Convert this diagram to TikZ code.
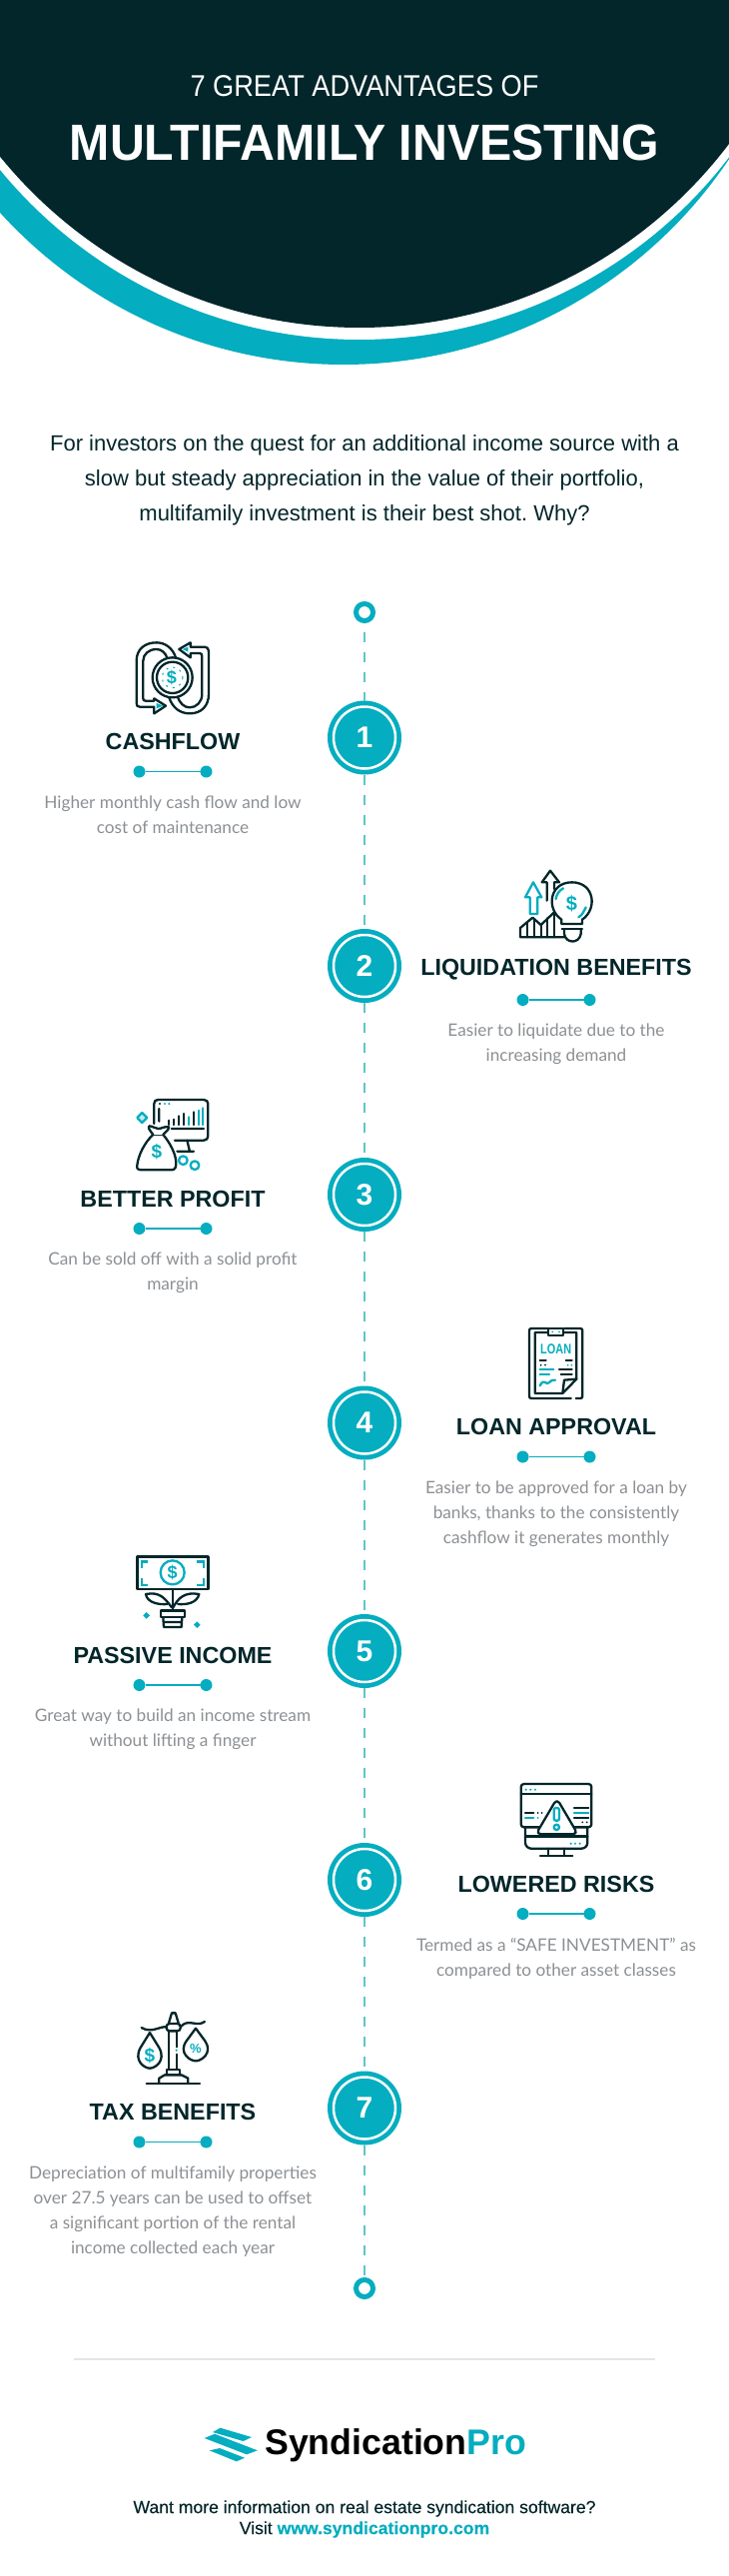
\documentclass[tikz,border=0pt]{standalone}
\usepackage{fontspec}
\setmainfont{Liberation Sans}
\newfontfamily\bodyfont{Lato}
\usetikzlibrary{calc}
\definecolor{inkdark}{HTML}{02262A}
\definecolor{tealc}{HTML}{04ADBF}
\definecolor{dashc}{HTML}{5FC4CF}
\definecolor{bodyg}{HTML}{8C9094}
\tikzset{
  headtext/.style={inner sep=0,font=\bfseries\fontsize{23.3}{27}\selectfont,text=inkdark},
  bodytext/.style={inner sep=0,anchor=north,align=center,font=\bodyfont\fontsize{17.2}{25}\selectfont,text=bodyg},
  dotn/.style={circle,fill=tealc,minimum size=12,inner sep=0,outer sep=0},
  divline/.style={draw=tealc,line width=1.5},
  dashline/.style={draw=dashc,line width=2,dash pattern=on 10pt off 10pt},
  ringn/.style={circle,fill=tealc,minimum size=74,inner sep=0,outer sep=0},
  numn/.style={circle,fill=tealc,draw=white,line width=2.5,minimum size=62,inner sep=0,outer sep=0,text=white,font=\bfseries\fontsize{30}{30}\selectfont},
  icond/.style={draw=inkdark,line width=2.3,line cap=round,line join=round},
  icont/.style={draw=tealc,line width=2.3,line cap=round,line join=round},
  dollar/.style={inner sep=0,text=tealc,font=\bfseries\fontsize{18}{18}\selectfont},
  iconscope/.style={scale=0.33333},
}
\newcommand{\infoblock}[5]{%
  \node[headtext] (#1-t) at (#2,#3+4) {#4};
  \node[dotn] (#1-a) at (#2-33.5,#3+34) {};
  \node[dotn] (#1-b) at (#2+33.5,#3+34) {};
  \draw[divline] (#1-a) -- (#1-b);
  \node[bodytext] (#1-x) at (#2,#3+58) {#5};
}
\newcommand{\numcirc}[2]{%
  \node[ringn] (r#1) at (365,#2) {};
  \node[numn] (n#1) at (365,#2) {#1};
}
\begin{document}
\frenchspacing
\begin{tikzpicture}[x=1pt,y=-1pt]
\useasboundingbox (0,0) rectangle (730,2579);
\fill[white] (0,0) rectangle (730,2579);
% header
\begin{scope}
\clip (0,0) rectangle (730,400);
\fill[tealc] (344,-100) circle [radius=465];
\fill[white] (360,-126) circle [radius=466];
\fill[inkdark] (360,-136) circle [radius=464];
\end{scope}
\node[inner sep=0,text=white,font=\fontsize{30}{30}\selectfont\addfontfeature{FakeStretch=0.906}] (sup) at (365,86) {7 GREAT ADVANTAGES OF};
\node[inner sep=0,text=white,font=\bfseries\fontsize{51}{51}\selectfont\addfontfeature{FakeStretch=0.947}] (ttl) at (365,143) {MULTIFAMILY INVESTING};
\node[inner sep=0,align=center,text=inkdark,font=\fontsize{22}{35}\selectfont] (intro) at (365,481) {For investors on the quest for an additional income source with a\\slow but steady appreciation in the value of their portfolio,\\multifamily investment is their best shot. Why?};
% timeline
\node[circle,draw=tealc,line width=5,fill=white,minimum size=17,inner sep=0] (top) at (365,613) {};
\node[circle,draw=tealc,line width=5,fill=white,minimum size=17,inner sep=0] (bot) at (365,2291) {};
\numcirc{1}{738.5}
\numcirc{2}{967}
\numcirc{3}{1196}
\numcirc{4}{1424.5}
\numcirc{5}{1653}
\numcirc{6}{1882}
\numcirc{7}{2110.5}
\draw[dashline] ($(top)+(0,20)$) -- (r1);
\draw[dashline] (r1) -- (r2);
\draw[dashline] (r2) -- (r3);
\draw[dashline] (r3) -- (r4);
\draw[dashline] (r4) -- (r5);
\draw[dashline] (r5) -- (r6);
\draw[dashline] (r6) -- (r7);
\draw[dashline] (r7) -- (bot);
% blocks
\infoblock{b1}{173}{738.5}{CASHFLOW}{Higher monthly cash flow and low\\cost of maintenance}
\infoblock{b2}{557}{967}{LIQUIDATION BENEFITS}{Easier to liquidate due to the\\increasing demand}
\infoblock{b3}{173}{1196}{BETTER PROFIT}{Can be sold off with a solid profit\\margin}
\infoblock{b4}{557}{1424.5}{LOAN APPROVAL}{Easier to be approved for a loan by\\banks, thanks to the consistently\\cashflow it generates monthly}
\infoblock{b5}{173}{1653}{PASSIVE INCOME}{Great way to build an income stream\\without lifting a finger}
\infoblock{b6}{557}{1882}{LOWERED RISKS}{Termed as a “SAFE INVESTMENT” as\\compared to other asset classes}
\infoblock{b7}{173}{2110.5}{TAX BENEFITS}{Depreciation of multifamily properties\\over 27.5 years can be used to offset\\a significant portion of the rental\\income collected each year}
% icon 1
\begin{scope}[shift={(0,580)},iconscope]
\draw[icond] (528,235) .. controls (518,205) and (495,190) .. (470,190) .. controls (435,190) and (410,210) .. (410,245) -- (410,372) .. controls (410,380) and (413,383) .. (420,383) -- (463,383) -- (463,403) -- (498,380) -- (463,358) -- (463,365) -- (437,365) .. controls (432,365) and (430,362) .. (430,358) -- (430,245) .. controls (430,225) and (447,210) .. (470,210) .. controls (485,210) and (497,220) .. (503,238);
\draw[icond] (508,355) .. controls (518,385) and (540,403) .. (570,403) .. controls (605,403) and (627,380) .. (627,345) -- (627,220) .. controls (627,208) and (622,203) .. (612,203) -- (572,203) -- (572,190) -- (538,210) -- (572,235) -- (572,222) -- (600,222) .. controls (605,222) and (607,226) .. (607,232) -- (607,345) .. controls (607,368) and (590,385) .. (570,385) .. controls (553,385) and (540,372) .. (533,352);
\fill[tealc] (470,372) -- (490,380) -- (470,388) -- cycle;
\fill[tealc] (565,203) -- (548,210) -- (565,218) -- cycle;
\draw[icond,fill=white] (518,295) circle [radius=60];
\draw[icond] (518,295) circle [radius=47];
\draw[tealc,line width=1,dash pattern=on 2pt off 5pt] (518,295) circle [radius=31];
\node[dollar] (i1s) at (516,296) {\$};
\end{scope}
% icon 2
\begin{scope}[shift={(400,850)},iconscope]
\draw[icond] (443,155) -- (443,100) -- (428,100) -- (453,65) -- (480,100) -- (465,100) -- (465,120);
\draw[icont] (392,195) -- (392,145) -- (378,145) -- (402,100) -- (427,145) -- (415,145) -- (415,195) -- cycle;
\draw[icond] (487,212) .. controls (440,180) and (450,100) .. (518,100) .. controls (586,100) and (596,180) .. (549,212) -- (549,225) -- (487,225) -- cycle;
\draw[icond] (488,240) -- (549,240);
\draw[icond] (495,240) -- (495,255) .. controls (500,285) and (540,285) .. (545,255) -- (545,240);
\draw[icond] (495,265) -- (363,265) -- (363,237) -- (400,206) -- (425,228) -- (465,190);
\draw[icond] (385,222) -- (385,265) (405,212) -- (405,265) (425,228) -- (425,265) (445,208) -- (445,265) (465,190) -- (465,265);
\draw[icont] (470,150) .. controls (472,135) and (480,125) .. (492,118);
\draw[icont] (538,205) .. controls (550,198) and (555,185) .. (560,175);
\node[dollar,font=\bfseries\fontsize{20}{20}\selectfont] (i2s) at (517,163) {\$};
\end{scope}
% icon 3
\begin{scope}[shift={(100,1100)},iconscope]
\draw[icond] (163,75) -- (163,15) .. controls (163,7) and (167,3) .. (175,3) -- (312,3) .. controls (320,3) and (325,8) .. (325,15) -- (325,112) .. controls (325,120) and (320,125) .. (312,125) -- (225,125);
\draw[icond] (178,30) -- (178,68) (215,90) -- (312,90) (262,125) -- (270,158) (232,158) -- (282,158);
\fill[inkdark] (180,15) circle [radius=3.5];
\fill[tealc] (195,15) circle [radius=3.5] (208,15) circle [radius=3.5];
\draw[icond] (207,65) -- (207,78) (222,62) -- (222,78) (237,52) -- (237,78) (252,45) -- (252,78) (282,40) -- (282,78);
\draw[icont] (267,55) -- (267,78) (297,35) -- (297,78) (310,28) -- (310,78);
\draw[icond,fill=white] (160,108) -- (190,108) .. controls (205,125) and (235,170) .. (228,205) .. controls (226,212) and (220,214) .. (215,214) -- (122,214) .. controls (115,214) and (110,210) .. (112,200) .. controls (115,170) and (135,130) .. (160,108) -- cycle;
\draw[icond,fill=white] (160,108) .. controls (155,100) and (142,88) .. (148,82) .. controls (160,82) and (165,90) .. (175,90) .. controls (185,90) and (195,82) .. (207,85) .. controls (208,95) and (195,100) .. (190,108);
\node[dollar,font=\bfseries\fontsize{19}{19}\selectfont] (i3s) at (171,160) {\$};
\draw[icont,fill=tealc!25] (127,42) -- (142,57) -- (127,72) -- (112,57) -- cycle;
\draw[icont] (250,185) circle [radius=13] (285,200) circle [radius=13];
\end{scope}
% icon 4
\begin{scope}[shift={(490,1310)},iconscope]
\draw[icond] (175,60) -- (127,60) .. controls (122,60) and (120,62) .. (120,67) -- (120,263) .. controls (120,268) and (122,270) .. (127,270) -- (245,270);
\draw[icond] (260,270) -- (273,270) .. controls (278,270) and (280,268) .. (280,263) -- (280,67) .. controls (280,62) and (278,60) .. (273,60) -- (225,60);
\draw[icond] (175,72) -- (137,72) -- (137,255) -- (220,255) -- (262,212) -- (262,72) -- (225,72);
\draw[icond] (262,212) -- (225,215) -- (220,255);
\draw[icond] (177,60) -- (177,80) -- (223,80) -- (223,60) -- cycle;
\fill[tealc] (190,70) circle [radius=3] (210,70) circle [radius=3];
\node[inner sep=0,text=tealc,font=\bfseries\fontsize{14}{14}\selectfont\addfontfeature{FakeStretch=0.78}] (i4l) at (200,121) {LOAN};
\draw[icond] (152,155) -- (170,155) (230,155) -- (248,155) (210,182) -- (248,182) (215,197) -- (248,197);
\fill[inkdark] (155,170) circle [radius=3] (168,170) circle [radius=3];
\fill[tealc] (236,170) circle [radius=3] (247,170) circle [radius=3];
\draw[icont] (152,182) -- (193,182) (152,197) -- (180,197);
\draw[icont] (152,232) .. controls (165,205) and (172,235) .. (180,222) .. controls (185,215) and (190,215) .. (198,215);
\end{scope}
% icon 5
\begin{scope}[shift={(110,1550)},iconscope]
\draw[icond,line width=2.8] (82,25) rectangle (295,123);
\draw[icont,line cap=butt,line join=miter] (115,40) -- (95,40) -- (95,60) (260,40) -- (282,40) -- (282,60) (95,90) -- (95,110) -- (115,110) (282,90) -- (282,110) -- (260,110);
\draw[icont] (188,73) circle [radius=36];
\node[dollar] (i5s) at (188,74) {\$};
\draw[icond] (188,123) -- (188,187);
\draw[icond] (186,178) .. controls (165,150) and (150,130) .. (108,138) .. controls (112,165) and (150,170) .. (172,168);
\draw[icond] (190,178) .. controls (205,150) and (225,130) .. (268,138) .. controls (262,165) and (230,170) .. (205,168);
\draw[icond] (152,187) rectangle (225,207);
\draw[icond] (160,207) -- (162,237) -- (215,237) -- (217,207) (165,222) -- (215,222);
\fill[tealc] (110,192) -- (120,202) -- (110,212) -- (100,202) -- cycle;
\fill[tealc] (262,220) -- (272,230) -- (262,240) -- (252,230) -- cycle;
\end{scope}
% icon 6
\begin{scope}[shift={(490,1770)},iconscope]
\draw[icond,rounded corners=3pt] (95,48) rectangle (307,178);
\draw[icond] (95,78) -- (307,78);
\fill[tealc] (110,65) circle [radius=3.5] (124,65) circle [radius=3.5] (138,65) circle [radius=3.5];
\draw[icond,rounded corners=6pt] (108,178) -- (108,242) -- (295,242) -- (295,178);
\draw[icond] (108,205) -- (295,205);
\fill[tealc] (245,227) circle [radius=3.5] (258,227) circle [radius=3.5] (272,227) circle [radius=3.5];
\draw[icond] (178,242) -- (178,262) (225,242) -- (225,262) (153,263) -- (250,263);
\draw[icond,fill=white,rounded corners=5pt] (203,92) -- (266,199) -- (140,199) -- cycle;
\draw[icont,rounded corners=2pt] (194,120) rectangle (210,158);
\draw[icont] (202,178) circle [radius=8];
\draw[icond] (108,135) -- (133,135) (255,120) -- (298,120) (255,149) -- (298,149);
\draw[icont] (108,150) -- (133,150) (255,135) -- (298,135);
\fill[inkdark] (146,135) circle [radius=3] (158,135) circle [radius=3] (280,163) circle [radius=3] (293,163) circle [radius=3];
\fill[tealc] (146,150) circle [radius=3];
\end{scope}
% icon 7
\begin{scope}[shift={(110,2000)},iconscope]
\draw[icond] (110,257) -- (270,257);
\draw[icond] (148,257) -- (148,242) -- (165,232) -- (215,232) -- (235,242) -- (235,257);
\draw[icond] (170,232) -- (170,215) -- (210,215) -- (210,232);
\draw[icond] (177,100) -- (177,215) (200,100) -- (200,148) (200,170) -- (200,215);
\fill[tealc] (200,158) circle [radius=3.5];
\draw[icond,rounded corners=3pt] (170,78) rectangle (212,100);
\draw[icond] (177,76) -- (186,46) -- (197,46) -- (206,76);
\draw[icond] (170,88) .. controls (150,85) and (125,108) .. (95,90);
\draw[icond] (212,88) .. controls (235,60) and (260,90) .. (285,72);
\draw[icond] (120,105) -- (92,150) .. controls (70,190) and (105,212) .. (120,212) .. controls (135,212) and (170,190) .. (148,150) -- cycle;
\draw[icond] (258,92) -- (230,130) .. controls (205,165) and (240,190) .. (258,190) .. controls (276,190) and (310,165) .. (286,130) -- cycle;
\node[dollar,font=\bfseries\fontsize{19}{19}\selectfont] (i7s) at (120,175) {\$};
\node[dollar,font=\bfseries\fontsize{13}{13}\selectfont] (i7p) at (258,153) {\%};
\end{scope}
% bottom
\coordinate (fl) at (74,2362);
\coordinate (fr) at (656,2362);
\draw[draw=black!10,line width=1.5] (fl) -- (fr);
\fill[tealc] (220.6,2430.7) -- (252,2440) -- (243.6,2444) -- (213,2435) -- cycle;
\fill[tealc] (204.7,2441) -- (215,2436.7) -- (257.8,2453.3) -- (247,2457.3) -- cycle;
\fill[tealc] (209.8,2453.3) -- (220,2451) -- (245,2460.7) -- (236.8,2464.3) -- cycle;
\node[inner sep=0,anchor=base west,font=\bfseries\fontsize{35.7}{35.7}\selectfont] (logo) at (265,2457) {Syndication\textcolor{tealc}{Pro}};
\node[inner sep=0,align=center,text=inkdark,font=\fontsize{17.6}{21}\selectfont\addfontfeature{FakeBold=0.25}] (foot) at (365,2522) {Want more information on real estate syndication software?\\Visit \textcolor{tealc}{\bfseries www.syndicationpro.com}};
\end{tikzpicture}
\end{document}
